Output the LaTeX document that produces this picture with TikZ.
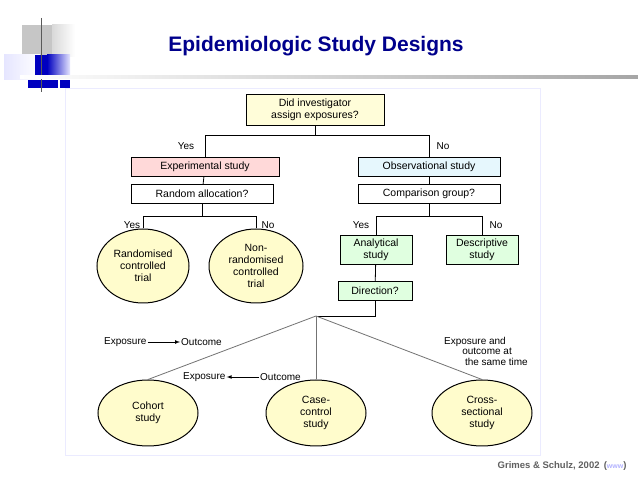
\documentclass[tikz,border=0pt]{standalone}
\usepackage{fontspec}
\usetikzlibrary{shapes.geometric}
\setmainfont{Liberation Sans}
\begin{document}
\begin{tikzpicture}[x=1pt,y=-1pt,
  box/.style={draw,line width=1pt,font=\fontsize{10.5}{11.5}\selectfont,align=center,inner sep=1.5pt},
  oval/.style={draw,line width=1pt,ellipse,fill=yellow!20,font=\fontsize{10.5}{12}\selectfont,align=center,minimum width=#1,minimum height=66,inner sep=0pt},
  oval/.default=100,
  lab/.style={font=\fontsize{10}{11}\selectfont,inner sep=1pt},
  conn/.style={line width=0.8pt},
  tline/.style={draw=gray!90!black,line width=0.8pt}]
\useasboundingbox (0,0) rectangle (638,478);
\fill[white] (0,0) rectangle (638,478);
% logo
\fill[gray!45] (22,25) rectangle (52,57);
\shade[left color=gray!30,right color=white] (52,25) rectangle (75,57);
\shade[left color=blue!10,right color=white] (4,55) rectangle (40,80);
\fill[blue!75!black] (35,55) rectangle (47,75);
\shade[left color=blue!75!black,right color=blue!10] (47,55) rectangle (70,75);
\fill[blue!75!black] (28,80) rectangle (58,88);
\fill[blue!75!black] (60,80) rectangle (70,88);
\draw[gray!70!black,line width=1pt] (41,18) -- (41,92);
\shade[left color=white,right color=gray!70] (20,76) rectangle (638,79);
\node[font=\fontsize{21}{24}\selectfont\bfseries,text=blue!55!black] (title) at (316,46) {Epidemiologic Study Designs};
\draw[blue!8,line width=0.8pt] (65,88) rectangle (540,455);
% nodes
\node[box,fill=yellow!15,minimum width=138,minimum height=31] (q1) at (315,110) {Did investigator\\assign exposures?};
\node[box,fill=red!15,minimum width=148,minimum height=19] (exp) at (205,167) {Experimental study};
\node[box,fill=cyan!10,minimum width=142,minimum height=19] (obs) at (429,167) {Observational study};
\node[box,fill=white,minimum width=142,minimum height=19] (ra) at (202,194) {Random allocation?};
\node[box,fill=white,minimum width=142,minimum height=19] (cg) at (429,194) {Comparison group?};
\node[oval=92,minimum height=74] (rct) at (143,266) {Randomised\\controlled\\trial};
\node[oval=94,minimum height=74] (nrct) at (256,266) {Non-\\randomised\\controlled\\trial};
\node[box,fill=green!12,minimum width=72,minimum height=29] (an) at (376,250) {Analytical\\study};
\node[box,fill=green!12,minimum width=72,minimum height=29] (de) at (482,250) {Descriptive\\study};
\node[box,fill=green!12,minimum width=74,minimum height=19] (dir) at (375,291) {Direction?};
\node[oval] (coh) at (148,413) {Cohort\\study};
\node[oval] (cc) at (316,413) {Case-\\control\\study};
\node[oval] (cs) at (482,413) {Cross-\\sectional\\study};
\coordinate (hub) at (316,316);
% connectors
\draw[conn] (q1.south) -- (315,135) -| (exp.north);
\draw[conn] (315,135) -| (obs.north);
\draw[conn] (exp) -- (ra);
\draw[conn] (obs) -- (cg);
\draw[conn] (ra.south) -- ++(0,12) coordinate (rah);
\draw[conn] (rah) -| (rct.north);
\draw[conn] (rah) -| (nrct.north);
\draw[conn] (cg.south) -- ++(0,12) coordinate (cgh);
\draw[conn] (cgh) -| (an.north);
\draw[conn] (cgh) -| (de.north);
\draw[conn] (an) -- (dir);
\draw[conn] (dir.south) |- (hub);
\draw[tline] (hub) -- (coh.north);
\draw[tline] (hub) -- (cc.north);
\draw[tline] (hub) -- (cs.north);
% labels
\node[lab] (y1) at (186,146) {Yes};
\node[lab] (n1) at (443,146) {No};
\node[lab] (y2) at (132,225) {Yes};
\node[lab] (n2) at (268,225) {No};
\node[lab] (y3) at (361,225) {Yes};
\node[lab] (n3) at (496,225) {No};
\node[lab,anchor=west] (e1) at (103,342) {Exposure};
\node[lab,anchor=west] (o1) at (180,342) {Outcome};
\draw[-latex,line width=0.7pt] (e1.east) -- (o1.west);
\node[lab,anchor=west] (e2) at (182,377) {Exposure};
\node[lab,anchor=west] (o2) at (259,377) {Outcome};
\draw[-latex,line width=0.7pt] (o2.west) -- (e2.east);
\node[lab,align=right,anchor=north east,font=\fontsize{10}{10.5}\selectfont] (same) at (529,336) {Exposure and\hspace{2.2em}\null\\outcome at\hspace{1.6em}\null\\the same time};
\node[font=\fontsize{9.5}{10}\selectfont\bfseries,text=gray!75!black,anchor=east] (cite) at (630,466) {Grimes \& Schulz, 2002 \,({\color{blue!30}\fontsize{7}{8}\selectfont www})};
\end{tikzpicture}
\end{document}
